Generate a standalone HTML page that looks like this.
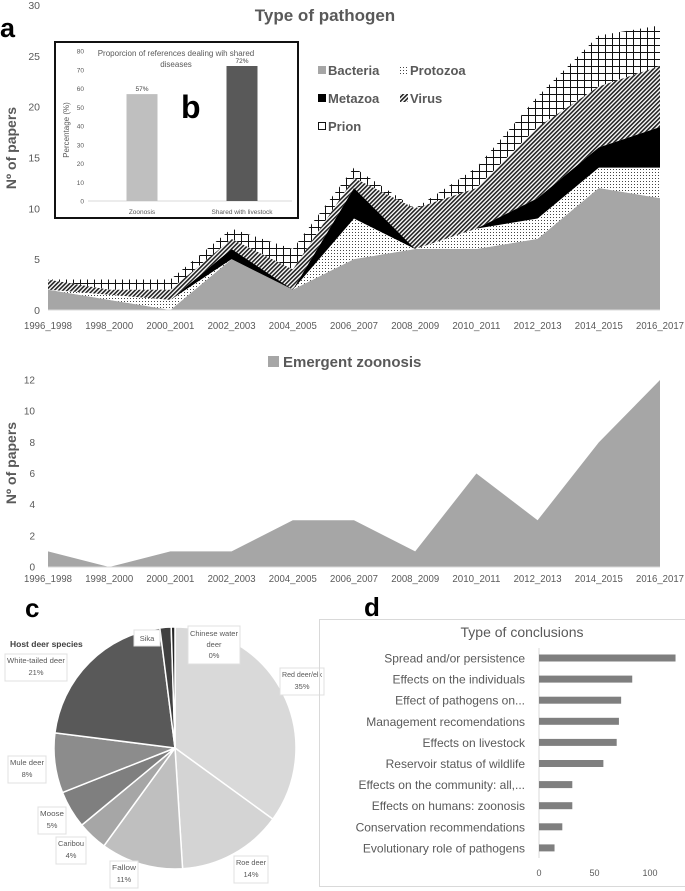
<!DOCTYPE html>
<html><head><meta charset="utf-8"><style>
html,body{margin:0;padding:0;background:#fff;}
svg{display:block;font-family:"Liberation Sans",sans-serif;}
.t{fill:#595959;font-size:10.5px;}
</style></head><body>
<svg id="fig" width="685" height="891" viewBox="0 0 685 891">
<defs>
<pattern id="pDots" width="3" height="3" patternUnits="userSpaceOnUse"><rect width="3" height="3" fill="#fff"/><rect x="1" y="1" width="1" height="1" fill="#444"/></pattern>
<pattern id="pDiag" width="3" height="3" patternUnits="userSpaceOnUse" patternTransform="rotate(45)"><rect width="3" height="3" fill="#fff"/><rect width="1.6" height="3" fill="#222"/></pattern>
<pattern id="pGrid" width="7" height="7" patternUnits="userSpaceOnUse"><rect width="7" height="7" fill="#fff"/><rect x="3" width="1" height="7" fill="#111"/><rect y="3" width="7" height="1" fill="#111"/></pattern>
</defs>
<g id="chartA"></g>
<g id="chartE"></g>
<g id="chartC"></g>
<g id="chartD"></g>
</svg>
<script>
const categories=["1996_1998","1998_2000","2000_2001","2002_2003","2004_2005","2006_2007","2008_2009","2010_2011","2012_2013","2014_2015","2016_2017"];
const bacteria=[2,1,0,5,2,5,6,6,7,12,11];
const protozoa=[0,0.5,1,0,0,4,0,2,2,2,3];
const metazoa=[0,0,0,1,0,3,0,0,2,2,4];
const virus=[1,0.5,1,1,2,1,4,4,7,6,6];
const prion=[0,1,1,1,2,1,0,2,3,5,4];
const yTicksA=[0,5,10,15,20,25,30];
const zoonosis=[1,0,1,1,3,3,1,6,3,8,12];
const yTicksE=[0,2,4,6,8,10,12];
const insetCats=["Zoonosis","Shared with livestock"];
const insetVals=[57,72];
const insetTicks=[0,10,20,30,40,50,60,70,80];
const pieLabels=["Red deer/elk","Roe deer","Fallow","Caribou","Moose","Mule deer","White-tailed deer","Sika","Chinese water deer"];
const pieValues=[35,14,11,4,5,8,21,1.5,0.5];
const barLabels=["Spread and/or persistence","Effects on the individuals","Effect of pathogens on...","Management recomendations","Effects on livestock","Reservoir status of wildlife","Effects on the community: all,...","Effects on humans: zoonosis","Conservation recommendations","Evolutionary role of pathogens"];
const barValues=[123,84,74,72,70,58,30,30,21,14];
const barTicks=[0,50,100];

const NS="http://www.w3.org/2000/svg";
function mk(tag,attrs,parent,text){const e=document.createElementNS(NS,tag);for(const k in attrs)e.setAttribute(k,attrs[k]);if(text!==undefined)e.textContent=text;parent.appendChild(e);return e;}

// ---------- Chart A ----------
const A=document.getElementById('chartA');
const ax=i=>48+i*(660-48)/(categories.length-1);
const ay=v=>310-v*(305/30);
let t;
t=mk('text',{x:0,y:37,'font-size':27,fill:'#000','font-weight':'bold'},A,'a');

t=mk('text',{x:325,y:21,'font-size':17,fill:'#595959','font-weight':'bold','text-anchor':'middle'},A,'Type of pathogen');

t=mk('text',{x:0,y:0,'font-size':14,fill:'#595959','font-weight':'bold','text-anchor':'middle',transform:'translate(16,148) rotate(-90)'},A,'Nº of papers');

yTicksA.forEach(v=>{const e=mk('text',{x:40,y:ay(v)+4,'text-anchor':'end',class:'t'},A,String(v));});
categories.forEach((c,i)=>{const e=mk('text',{x:ax(i)-24,y:329,textLength:48,lengthAdjust:'spacingAndGlyphs',class:'t'},A,c);});
const series=[["bacteria",bacteria,"#a6a6a6"],["protozoa",protozoa,"url(#pDots)"],["metazoa",metazoa,"#000"],["virus",virus,"url(#pDiag)"],["prion",prion,"url(#pGrid)"]];
let base=categories.map(()=>0);
series.forEach(([n,vals,fill])=>{
  const top=base.map((b,i)=>b+vals[i]);
  let pts=top.map((v,i)=>ax(i)+','+ay(v));
  for(let i=categories.length-1;i>=0;i--)pts.push(ax(i)+','+ay(base[i]));
  const p=mk('polygon',{points:pts.join(' '),fill:fill},A);
  
  base=top;
});
mk('line',{x1:48,x2:660,y1:310,y2:310,stroke:'#d9d9d9'},A);
const leg=[["Bacteria","#a6a6a6",318,71],["Protozoa","url(#pDots)",400,71],["Metazoa","#000",318,99],["Virus","url(#pDiag)",400,99],["Prion","url(#pGrid)",318,127]];
leg.forEach(([n,f,x,y])=>{const g=mk('g',{},A);
 mk('rect',{x:x,y:y-5,width:8,height:8,fill:f},g);mk('text',{x:x+10,y:y+4,'font-size':13,'font-weight':'bold',fill:'#595959'},g,n);});
const I=mk('g',{},A);
mk('rect',{x:55,y:42,width:243,height:176,fill:'#fff',stroke:'#111','stroke-width':2},I);
const iy=v=>201-v*(150/80);
insetTicks.forEach(v=>{const e=mk('text',{x:84,y:iy(v)+2.5,'text-anchor':'end','font-size':6.5,fill:'#595959'},I,String(v));});
mk('line',{x1:88,x2:292,y1:201,y2:201,stroke:'#d9d9d9'},I);
const icol=["#bfbfbf","#595959"];
insetCats.forEach((c,i)=>{const cx=142+i*100;
 const r=mk('rect',{x:cx-15.5,y:iy(insetVals[i]),width:31,height:201-iy(insetVals[i]),fill:icol[i]},I);
 mk('text',{x:cx,y:iy(insetVals[i])-3,'text-anchor':'middle','font-size':6.5,fill:'#404040'},I,insetVals[i]+'%');
 mk('text',{x:cx,y:214,'text-anchor':'middle','font-size':6.5,fill:'#595959'},I,c);});
mk('text',{x:176,y:56,'text-anchor':'middle','font-size':8,fill:'#595959'},I,'Proporcion of references dealing wih shared');
mk('text',{x:176,y:67,'text-anchor':'middle','font-size':8,fill:'#595959'},I,'diseases');
mk('text',{x:0,y:0,'text-anchor':'middle','font-size':8,fill:'#595959',transform:'translate(69,130) rotate(-90)'},I,'Percentage (%)');
t=mk('text',{x:181,y:118,'font-size':32,'font-weight':'bold',fill:'#000'},I,'b');

// ---------- Chart E ----------
const E=document.getElementById('chartE');
const ey=v=>567-v*(187/12);
t=mk('text',{x:0,y:0,'font-size':14,fill:'#595959','font-weight':'bold','text-anchor':'middle',transform:'translate(16,463) rotate(-90)'},E,'Nº of papers');

yTicksE.forEach(v=>{const e=mk('text',{x:35,y:ey(v)+3.5,'text-anchor':'end','font-size':10,fill:'#595959'},E,String(v));});
categories.forEach((c,i)=>{const e=mk('text',{x:ax(i)-24,y:582,textLength:48,lengthAdjust:'spacingAndGlyphs',class:'t'},E,c);});
let ep=zoonosis.map((v,i)=>ax(i)+','+ey(v));ep.push(ax(categories.length-1)+','+ey(0));ep.push(ax(0)+','+ey(0));
t=mk('polygon',{points:ep.join(' '),fill:'#a6a6a6'},E);
mk('line',{x1:48,x2:660,y1:567,y2:567,stroke:'#d9d9d9'},E);
const lg=mk('g',{},E);
mk('rect',{x:268,y:356,width:11,height:11,fill:'#a6a6a6'},lg);
mk('text',{x:283,y:367,'font-size':15,'font-weight':'bold',fill:'#595959'},lg,'Emergent zoonosis');

// ---------- Chart C (pie) ----------
const C=document.getElementById('chartC');
t=mk('text',{x:25,y:617,'font-size':26,'font-weight':'bold',fill:'#000'},C,'c');
const pcx=175,pcy=748,pr=121;
const pcol=["#d9d9d9","#d4d4d4","#bfbfbf","#a6a6a6","#7f7f7f","#8c8c8c","#595959","#404040","#262626"];
const tot=pieValues.reduce((a,b)=>a+b,0);let ang=-Math.PI/2;
pieValues.forEach((v,i)=>{const a2=ang+v/tot*2*Math.PI;
 const x1=pcx+pr*Math.cos(ang),y1=pcy+pr*Math.sin(ang),x2=pcx+pr*Math.cos(a2),y2=pcy+pr*Math.sin(a2);
 const large=(a2-ang)>Math.PI?1:0;
 const p=mk('path',{d:`M${pcx},${pcy} L${x1},${y1} A${pr},${pr} 0 ${large} 1 ${x2},${y2} Z`,fill:pcol[i],stroke:'#fff','stroke-width':1.5},C);
 
 ang=a2;});
t=mk('text',{x:10,y:647,'font-size':8.5,'font-weight':'bold',fill:'#404040'},C,'Host deer species');
const pl=[["Red deer/elk",302,677,35,44],["Roe deer",251,865,14,34],["Fallow",124,870,11,28],["Caribou",71,846,4,30],["Moose",52,816,5,28],["Mule deer",27,765,8,38],["White-tailed deer",36,663,21,62]];
pl.forEach(([n,x,y,v,w])=>{const g=mk('g',{},C);
 mk('rect',{x:x-w/2,y:y-9,width:w,height:27,fill:'#fff',stroke:'#e0e0e0'},g);
 mk('text',{x:x-w/2+2,y:y,textLength:w-4,lengthAdjust:'spacingAndGlyphs','font-size':7.5,fill:'#595959'},g,n);mk('text',{x:x,y:y+12,'text-anchor':'middle','font-size':7.5,fill:'#595959'},g,v+'%');});
mk('rect',{x:134,y:630,width:26,height:16,fill:'#fff',stroke:'#e0e0e0'},C);
mk('text',{x:147,y:641,'text-anchor':'middle','font-size':7.5,fill:'#595959'},C,'Sika');
mk('rect',{x:188,y:626,width:52,height:38,fill:'#fff',stroke:'#e0e0e0'},C);
mk('text',{x:190,y:636,textLength:48,lengthAdjust:'spacingAndGlyphs','font-size':7.5,fill:'#595959'},C,'Chinese water');
mk('text',{x:214,y:647,'text-anchor':'middle','font-size':7.5,fill:'#595959'},C,'deer');
mk('text',{x:214,y:658,'text-anchor':'middle','font-size':7.5,fill:'#595959'},C,'0%');

// ---------- Chart D (bars) ----------
const D=document.getElementById('chartD');
t=mk('text',{x:364,y:616,'font-size':26,'font-weight':'bold',fill:'#000'},D,'d');
mk('rect',{x:319.5,y:619.5,width:370,height:267,fill:'none',stroke:'#d9d9d9'},D);
t=mk('text',{x:522,y:637,'text-anchor':'middle','font-size':14,fill:'#595959'},D,'Type of conclusions');
const bx=v=>539+v*(111/100);
mk('line',{x1:539,x2:539,y1:648,y2:858,stroke:'#d9d9d9'},D);
barLabels.forEach((l,i)=>{const y=658+i*21.1;
 const r=mk('rect',{x:bx(0),y:y-3.5,width:bx(barValues[i])-bx(0),height:7,fill:'#7f7f7f'},D);
 const e=mk('text',{x:525,y:y+4.5,'text-anchor':'end','font-size':12,fill:'#595959'},D,l);});
barTicks.forEach(v=>{const e=mk('text',{x:bx(v),y:876,'text-anchor':'middle','font-size':9,fill:'#595959'},D,String(v));});
</script>
</body></html>
